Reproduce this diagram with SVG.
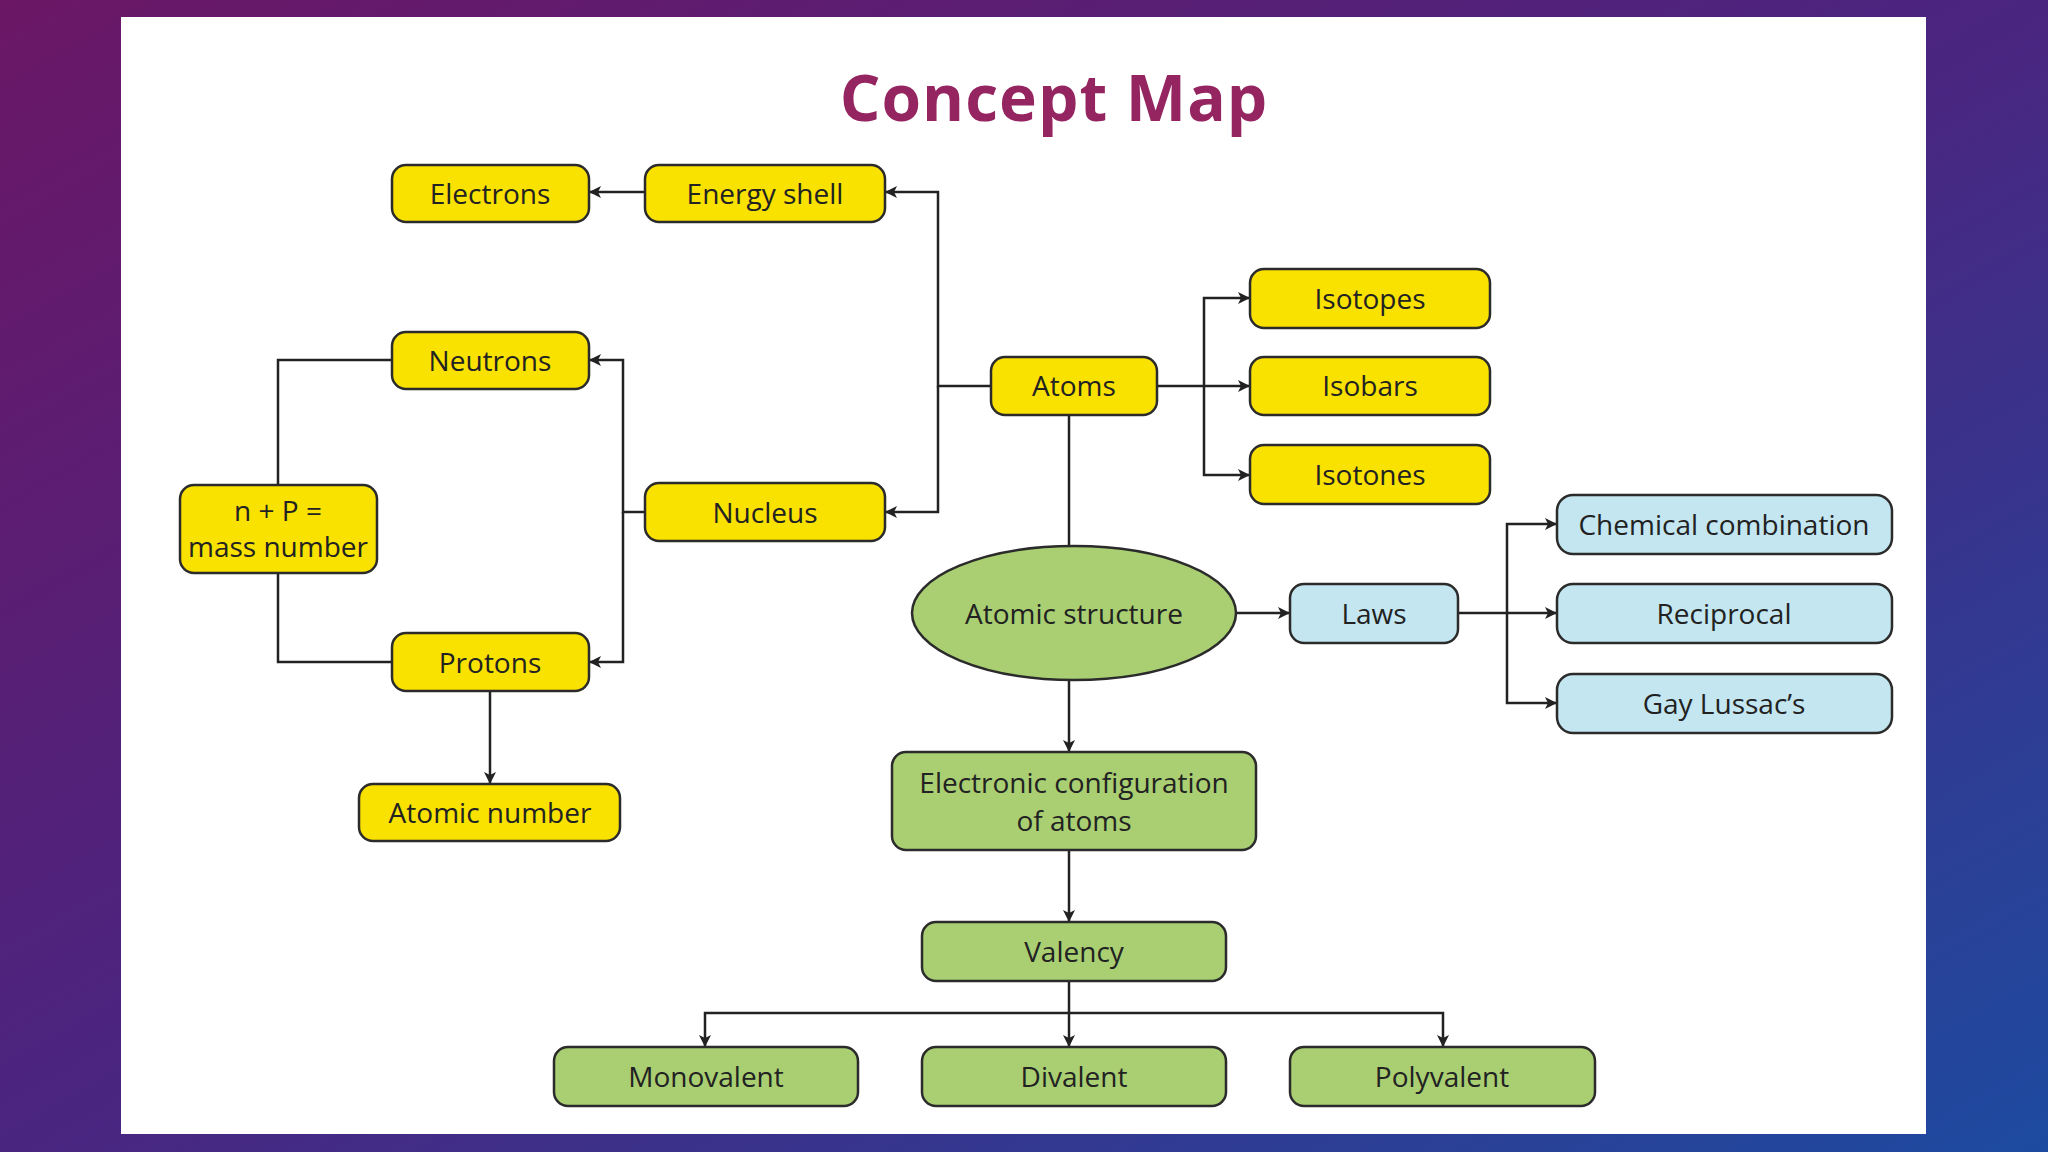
<svg xmlns="http://www.w3.org/2000/svg" width="2048" height="1152" viewBox="0 0 2048 1152">
<defs>
<linearGradient id="bg" x1="0" y1="0" x2="1" y2="1">
<stop offset="0" stop-color="#6b1766"/><stop offset="0.5" stop-color="#4a2580"/><stop offset="1" stop-color="#1d4ba0"/>
</linearGradient>
<marker id="ah" viewBox="0 0 10 10" refX="10" refY="5" markerWidth="13" markerHeight="12" markerUnits="userSpaceOnUse" orient="auto">
<path d="M0,0 L10,5 L0,10 L2.5,5 z" fill="#222"/>
</marker>
<style>
.y{fill:#f9e100;stroke:#2b2b2b;stroke-width:2.5}
.g{fill:#a9cf72;stroke:#2b2b2b;stroke-width:2.5}
.b{fill:#c3e6f0;stroke:#2b2b2b;stroke-width:2.5}
text{font-family:"Open Sans","Noto Sans",sans-serif;font-size:28px;fill:#222;text-anchor:middle;dominant-baseline:central}
.c path{fill:none;stroke:#222;stroke-width:2.5}
.a{marker-end:url(#ah)}
</style>
</defs>
<rect width="2048" height="1152" fill="url(#bg)"/>
<rect x="121" y="17" width="1805" height="1117" fill="#fff"/>
<text x="1054" y="96" style="font-size:64px;font-weight:bold;fill:#952560;letter-spacing:1px">Concept Map</text>
<g class="c">
<path class="a" d="M991,386 H938 V192 H885"/>
<path class="a" d="M938,386 V512 H885"/>
<path class="a" d="M645,192 H589"/>
<path class="a" d="M645,512 H623 V360 H589"/>
<path class="a" d="M623,512 V662 H589"/>
<path d="M392,360 H278 V485 M278,573 V662 H392"/>
<path class="a" d="M490,691 V784"/>
<path class="a" d="M1157,386 H1250"/>
<path class="a" d="M1204,386 V298 H1250"/>
<path class="a" d="M1204,386 V475 H1250"/>
<path d="M1069,415 V546"/>
<path class="a" d="M1236,613 H1290"/>
<path class="a" d="M1458,613 H1557"/>
<path class="a" d="M1507,613 V524 H1557"/>
<path class="a" d="M1507,613 V703 H1557"/>
<path class="a" d="M1069,680 V752"/>
<path class="a" d="M1069,850 V922"/>
<path class="a" d="M1069,981 V1047"/>
<path class="a" d="M1069,1013 H705 V1047"/>
<path class="a" d="M1069,1013 H1443 V1047"/>
</g>
<g id="electrons"><rect class="y" x="392" y="165" width="197" height="57" rx="14"/><text x="490" y="193">Electrons</text></g>
<g id="energy-shell"><rect class="y" x="645" y="165" width="240" height="57" rx="14"/><text x="765" y="193">Energy shell</text></g>
<g id="neutrons"><rect class="y" x="392" y="332" width="197" height="57" rx="14"/><text x="490" y="360">Neutrons</text></g>
<g id="mass-number"><rect class="y" x="180" y="485" width="197" height="88" rx="14"/><text x="278" y="510">n + P =</text><text x="278" y="546">mass number</text></g>
<g id="nucleus"><rect class="y" x="645" y="483" width="240" height="58" rx="14"/><text x="765" y="512">Nucleus</text></g>
<g id="protons"><rect class="y" x="392" y="633" width="197" height="58" rx="14"/><text x="490" y="662">Protons</text></g>
<g id="atomic-number"><rect class="y" x="359" y="784" width="261" height="57" rx="14"/><text x="490" y="812">Atomic number</text></g>
<g id="atoms"><rect class="y" x="991" y="357" width="166" height="58" rx="14"/><text x="1074" y="385">Atoms</text></g>
<g id="isotopes"><rect class="y" x="1250" y="269" width="240" height="59" rx="14"/><text x="1370" y="298">Isotopes</text></g>
<g id="isobars"><rect class="y" x="1250" y="357" width="240" height="58" rx="14"/><text x="1370" y="385">Isobars</text></g>
<g id="isotones"><rect class="y" x="1250" y="445" width="240" height="59" rx="14"/><text x="1370" y="474">Isotones</text></g>
<g id="atomic-structure"><ellipse class="g" cx="1074" cy="613" rx="162" ry="67"/><text x="1074" y="613">Atomic structure</text></g>
<g id="laws"><rect class="b" x="1290" y="584" width="168" height="59" rx="14"/><text x="1374" y="613">Laws</text></g>
<g id="chemical-combination"><rect class="b" x="1557" y="495" width="335" height="59" rx="16"/><text x="1724" y="524">Chemical combination</text></g>
<g id="reciprocal"><rect class="b" x="1557" y="584" width="335" height="59" rx="16"/><text x="1724" y="613">Reciprocal</text></g>
<g id="gay-lussac"><rect class="b" x="1557" y="674" width="335" height="59" rx="16"/><text x="1724" y="703">Gay Lussac’s</text></g>
<g id="electronic-configuration"><rect class="g" x="892" y="752" width="364" height="98" rx="14"/><text x="1074" y="782">Electronic configuration</text><text x="1074" y="820">of atoms</text></g>
<g id="valency"><rect class="g" x="922" y="922" width="304" height="59" rx="14"/><text x="1074" y="951">Valency</text></g>
<g id="monovalent"><rect class="g" x="554" y="1047" width="304" height="59" rx="14"/><text x="706" y="1076">Monovalent</text></g>
<g id="divalent"><rect class="g" x="922" y="1047" width="304" height="59" rx="14"/><text x="1074" y="1076">Divalent</text></g>
<g id="polyvalent"><rect class="g" x="1290" y="1047" width="305" height="59" rx="14"/><text x="1442" y="1076">Polyvalent</text></g>
</svg>
